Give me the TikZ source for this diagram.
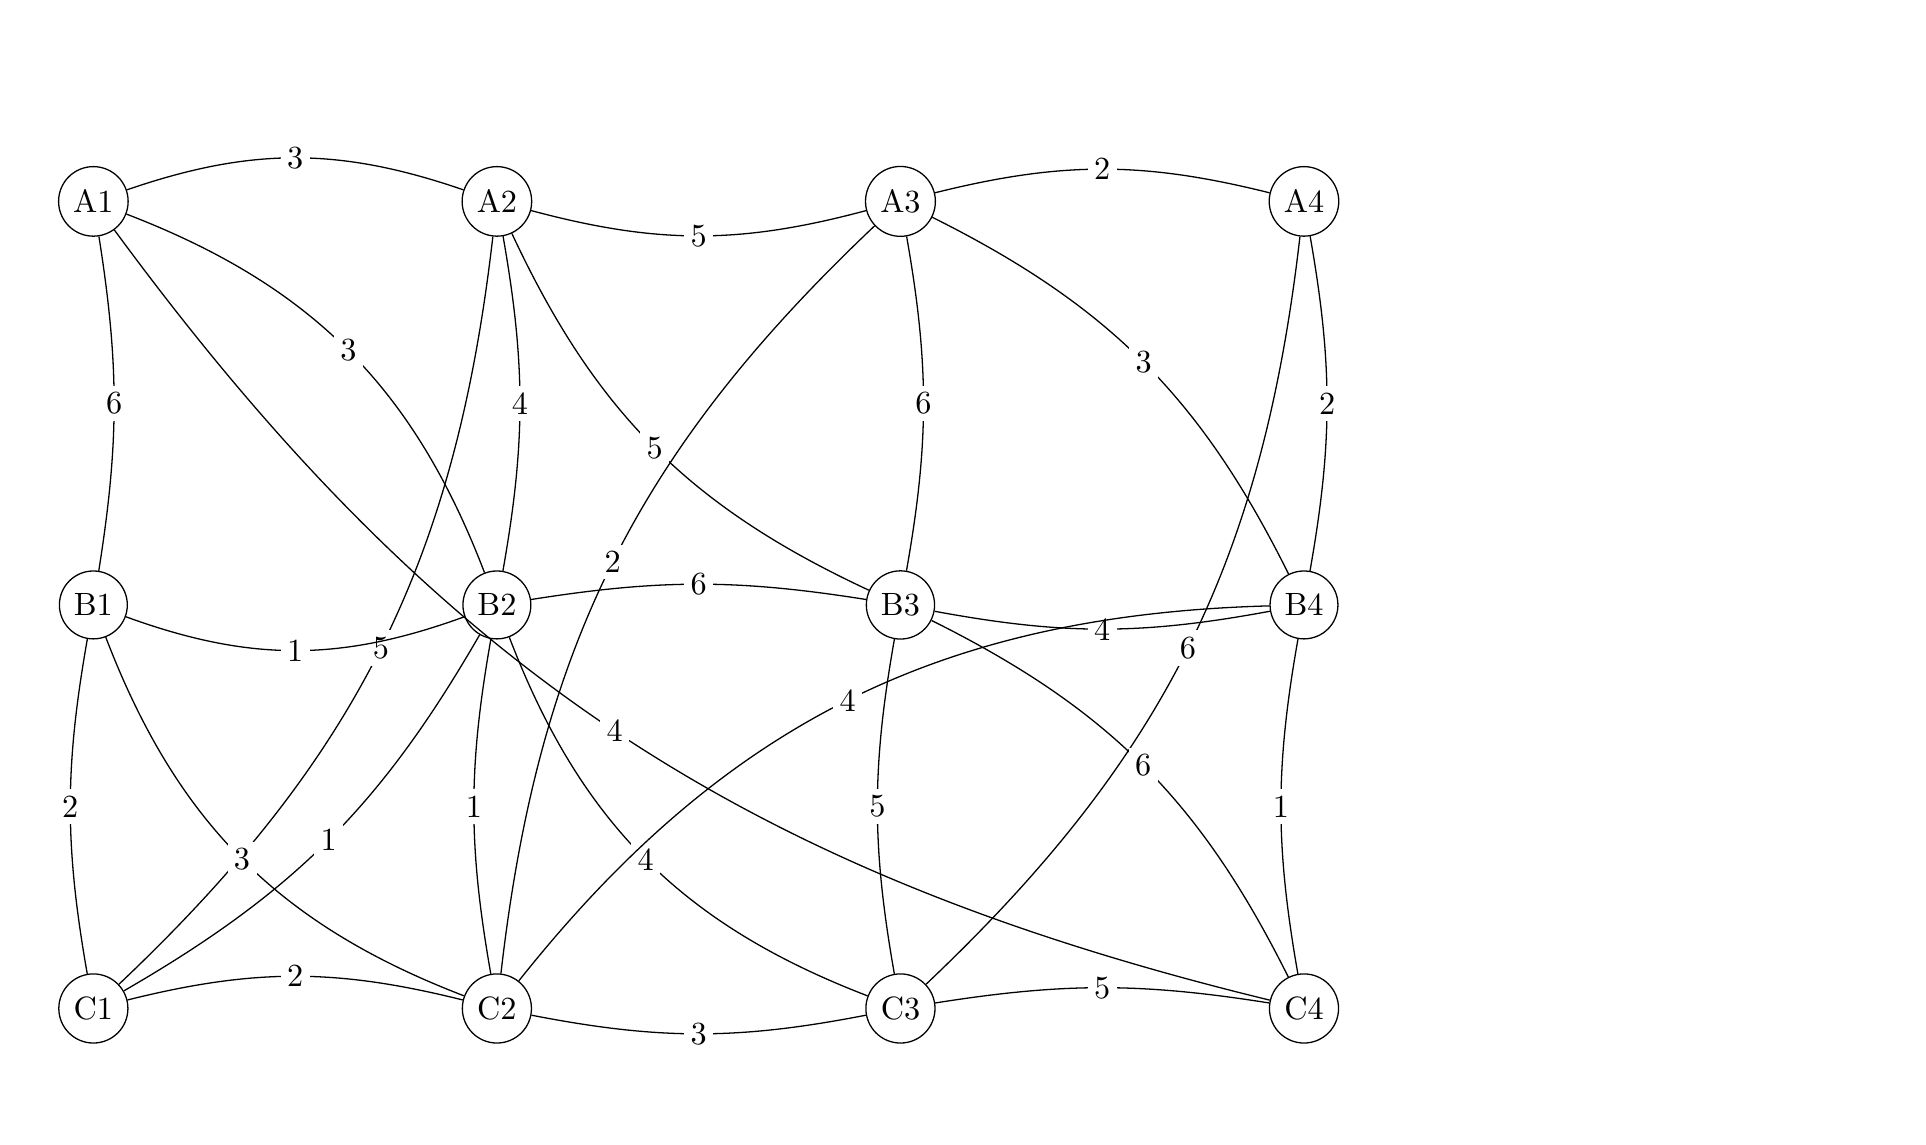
\documentclass[tikz,border=0pt]{standalone}
\usepackage{amsmath}
\usepackage{tikz}

\begin{document}
\begin{tikzpicture}[lbl/.style={fill=white,inner sep=2pt}]
        \useasboundingbox (-1.018,-10.278) rectangle (19.982,2.196);
        \foreach \row/\y in {A/0,B/-4.4,C/-8.8}
        {
            \foreach \col in {1,2,3,4}
            {
                \node[draw,circle,inner sep=2.6pt] (\row\col) at ({(\col-1)*4.4},\y) {\row\col};
            }
        }
        % top row
        \draw (A1) to [bend left=19] node[lbl]{3} (A2);
        \draw (A2) to [bend right=15] node[lbl]{5} (A3);
        \draw (A3) to [bend left=14] node[lbl]{2} (A4);

        \draw (A1) to [bend left=9] node[lbl]{6} (B1);
        \draw (A1) to [bend left=24] node[lbl]{3} (B2);
        \draw (A1) to [bend right=20] node[lbl]{4} (C4);
        \draw (A2) to [bend left=10] node[lbl]{4} (B2);
        \draw (A2) to [bend right=20] node[lbl]{5} (B3);
        \draw (A2) to [bend left=20] node[lbl]{5} (C1);
        \draw (A3) to [bend left=10] node[lbl]{6} (B3);
        \draw (A3) to [bend left=18.5] node[lbl]{3} (B4);
        \draw (A3) to [bend right=20] node[lbl]{2} (C2);
        \draw (A4) to [bend left=10] node[lbl]{2} (B4);
        \draw (A4) to [bend left=20] node[lbl]{6} (C3);

        % middle row
        \draw (B1) to [bend right=20] node[lbl]{1} (B2);
        \draw (B2) to [bend left=9] node[lbl]{6} (B3);
        \draw (B3) to [bend right=10.5] node[lbl]{4} (B4);

        \draw (B1) to [bend right=10] node[lbl]{2} (C1);
        \draw (B1) to [bend right=24] node[lbl]{3} (C2);
        \draw (B2) to [bend left=15] node[lbl]{1} (C1);
        \draw (B2) to [bend right=10] node[lbl]{1} (C2);
        \draw (B2) to [bend right=24] node[lbl]{4} (C3);
        \draw (B3) to [bend right=10] node[lbl]{5} (C3);
        \draw (B3) to [bend left=18.5] node[lbl]{6} (C4);
        \draw (B4) to [bend right=25] node[lbl]{4} (C2);
        \draw (B4) to [bend right=10] node[lbl]{1} (C4);

        % bottom row
        \draw (C1) to [bend left=14] node[lbl]{2} (C2);
        \draw (C2) to [bend right=11] node[lbl]{3} (C3);
        \draw (C3) to [bend left=9] node[lbl]{5} (C4);

\end{tikzpicture}
\end{document}
